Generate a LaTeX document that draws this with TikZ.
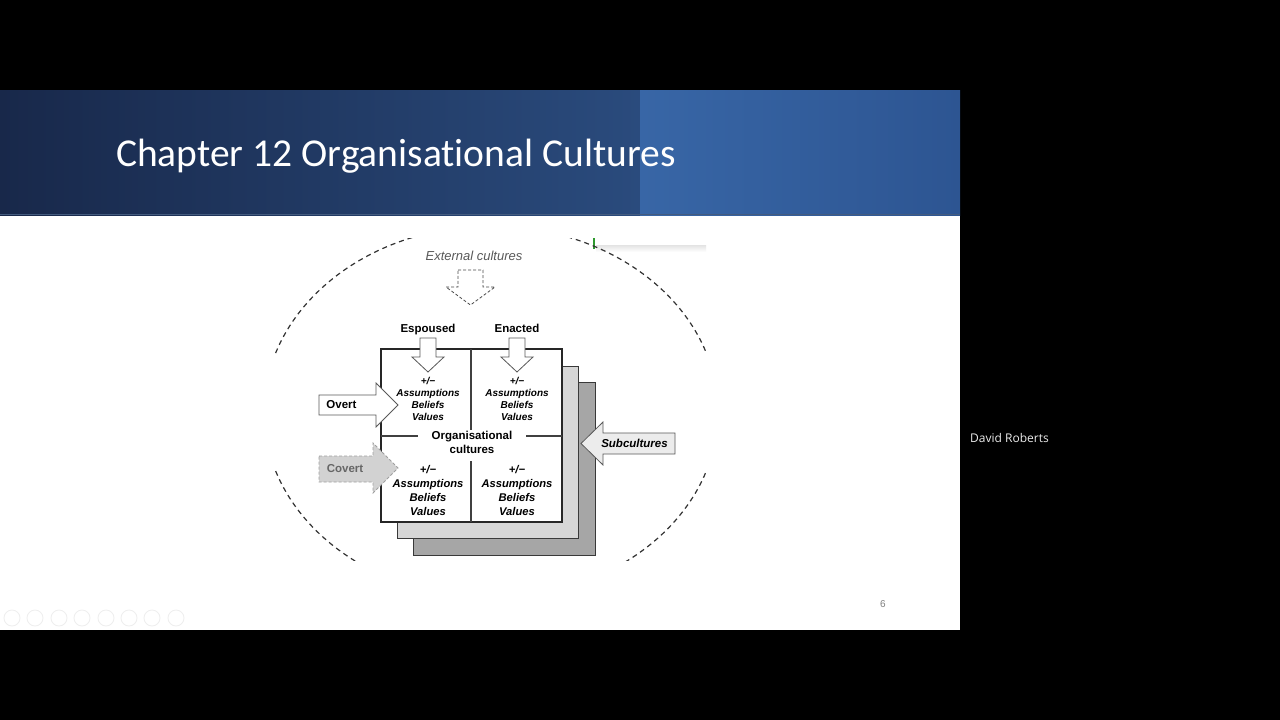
\documentclass[tikz,border=0pt]{standalone}
\usepackage{fontspec}
\setmainfont{Liberation Sans}
\newfontfamily\titlefont[Ligatures=NoCommon]{Carlito}
\newfontfamily\namefont{Open Sans}
\definecolor{hdrA}{HTML}{18284A}
\definecolor{hdrB}{HTML}{2A4B7D}
\definecolor{hdrC}{HTML}{3866A6}
\definecolor{hdrD}{HTML}{2D5592}
\definecolor{darklayer}{HTML}{A6A6A6}
\definecolor{lightlayer}{HTML}{D6D6D6}
\definecolor{covertfill}{HTML}{D2D2D2}
\definecolor{subfill}{HTML}{ECECEC}
\definecolor{tickgreen}{HTML}{2E9A2E}
\begin{document}
\begin{tikzpicture}[x=1pt,y=-1pt,
  lbl/.style={inner sep=0pt, font=\fontsize{11.5}{14}\selectfont\bfseries},
  cell/.style={inner sep=0pt, align=center, font=\fontsize{10}{12}\selectfont\bfseries\itshape},
  cellb/.style={inner sep=0pt, align=center, font=\fontsize{11.2}{14}\selectfont\bfseries\itshape},
  whitearrow/.style={fill=white, draw=gray!70!black, line width=0.8pt, line join=miter},
  layer/.style={draw=gray!45!black, line width=0.8pt},
  toolbtn/.style={draw=gray!13, line width=0.8pt}
]
\useasboundingbox (0,0) rectangle (1280,720);
% background frame
\fill[black] (0,0) rectangle (1280,720);
\fill[white] (0,215) rectangle (960,630);
% header band
\shade[left color=hdrA, right color=hdrB] (0,90) rectangle (640,215);
\shade[left color=hdrC, right color=hdrD] (640,90) rectangle (960,215);
\fill[gray!30!hdrB] (0,213.5) rectangle (960,215);
\node[anchor=base west, inner sep=0pt, text=white, font=\titlefont\fontsize{39.5}{46}\selectfont] (title) at (116,166) {Chapter 12 Organisational Cultures};

% presenter name and page number
\node[anchor=west, inner sep=0pt, text=white!92!black, font=\namefont\fontsize{12}{14}\selectfont] (presenter) at (970,438) {David Roberts};
\node[inner sep=0pt, text=gray, font=\fontsize{10}{12}\selectfont] (pagenum) at (883,604) {6};

% toolbar buttons
\foreach \bx [count=\i] in {12,35,59,82,106,129,152,176} {
  \draw[toolbtn] (\bx,618) circle [radius=8pt];
}

% artefact at top right of the figure
\shade[top color=gray!22, bottom color=white] (596,245) rectangle (706,252);
\draw[tickgreen, line width=1.6pt] (594,238) -- (594,249);

% dashed ellipse, cropped by the figure frame
\begin{scope}
  \clip (275,238) rectangle (706,560);
  \draw[black!80, line width=1.2pt, dash pattern=on 5pt off 4pt] (491,412) ellipse [x radius=227pt, y radius=186pt];
\end{scope}

% external cultures
\node[inner sep=0pt, text=black!65, font=\fontsize{13}{15}\selectfont\itshape] (ext) at (474,256) {External cultures};
\draw[gray!60!black, line width=0.8pt, dash pattern=on 3pt off 2pt]
  (458,270) -- (483,270) -- (483,287) -- (495,287) -- (470.5,305) -- (446,287) -- (458,287) -- cycle;

% stacked layers
\draw[layer, fill=darklayer] (413,382) rectangle (595,555);
\draw[layer, fill=lightlayer] (397,366) rectangle (578,538);
\draw[fill=white, draw=black!85, line width=1.5pt] (381,349) rectangle (562,522);
\draw[black!75, line width=1.3pt] (471,349) -- (471,430);
\draw[black!75, line width=1.3pt] (471,461) -- (471,522);
\draw[black!75, line width=1.3pt] (381,436) -- (418,436);
\draw[black!75, line width=1.3pt] (526,436) -- (562,436);

% espoused / enacted
\node[lbl, anchor=base] (esp) at (428,332.5) {Espoused};
\node[lbl, anchor=base] (ena) at (517,332.5) {Enacted};
\draw[whitearrow] (420,338) -- (436,338) -- (436,357) -- (444,357) -- (428,372) -- (412,357) -- (420,357) -- cycle;
\draw[whitearrow] (509,338) -- (525,338) -- (525,357) -- (533,357) -- (517,372) -- (501,357) -- (509,357) -- cycle;

% cell texts
\node[cell] (c1) at (428,398.5) {+/−\\Assumptions\\Beliefs\\Values};
\node[cell] (c2) at (517,398.5) {+/−\\Assumptions\\Beliefs\\Values};
\node[cellb] (c3) at (428,490.5) {+/−\\Assumptions\\Beliefs\\Values};
\node[cellb] (c4) at (517,490.5) {+/−\\Assumptions\\Beliefs\\Values};
\node[lbl, align=center] (org) at (472,442.5) {Organisational\\cultures};

% overt arrow
\draw[whitearrow] (319,395) -- (376,395) -- (376,383) -- (398,405) -- (376,427) -- (376,415) -- (319,415) -- cycle;
\node[lbl] (overt) at (341.5,404.5) {Overt};

% covert arrow
\draw[fill=covertfill, draw=gray!75, line width=0.8pt, dash pattern=on 3pt off 2pt] (319,456) -- (373,456) -- (373,443) -- (398,468) -- (373,493) -- (373,482) -- (319,482) -- cycle;
\node[lbl, text=black!60] (covert) at (345,468.5) {Covert};

% subcultures arrow
\draw[fill=subfill, draw=gray!70!black, line width=0.8pt] (675,433) -- (603,433) -- (603,422) -- (581,443.5) -- (603,465) -- (603,454) -- (675,454) -- cycle;
\node[lbl, font=\fontsize{11.5}{14}\selectfont\bfseries\itshape] (sub) at (634.5,443.5) {Subcultures};
\end{tikzpicture}
\end{document}
